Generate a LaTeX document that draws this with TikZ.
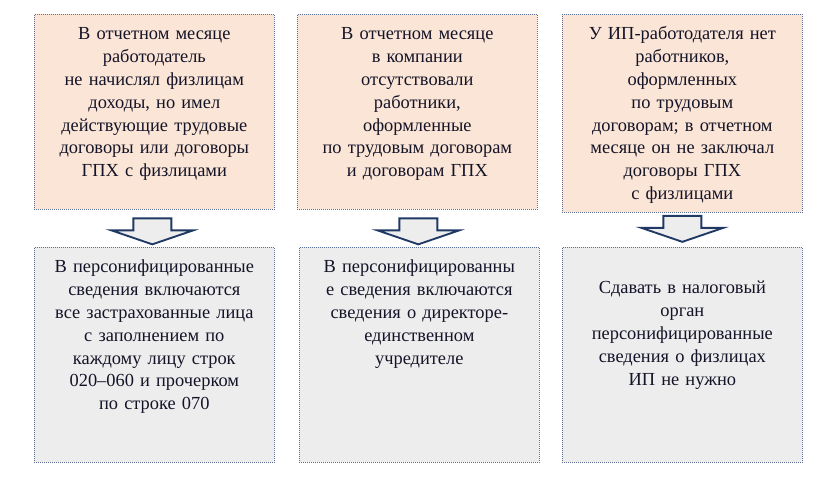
\documentclass[tikz,border=0pt]{standalone}
\usepackage{fontspec}
\setmainfont{Liberation Serif}
\usetikzlibrary{calc}
\definecolor{peach}{HTML}{FBE5D6}
\definecolor{pale}{HTML}{EDEDED}
\definecolor{navy}{HTML}{1F3864}
\definecolor{edge}{HTML}{5A6E96}
\definecolor{ink}{HTML}{141428}
\tikzset{
  box/.style={draw=edge, densely dotted, line width=0.5pt, anchor=north west, inner sep=0pt},
  topbox/.style={box, fill=peach},
  botbox/.style={box, fill=pale},
  txt/.style={text=ink, align=center, text width=#1, font=\fontsize{13.8}{17.2}\selectfont, inner sep=0pt},
  downarrow/.style={draw=navy, fill=pale, line width=1.4pt, line join=miter}
}
\newcommand{\blockarrow}[1]{%
  \draw[downarrow] ($(#1)+(-19,-6)$) -- ++(38,0) -- ++(0,12) -- ++(22,0) -- ++(-41,14) -- ++(-41,-14) -- ++(22,0) -- cycle;}
\begin{document}
\begin{tikzpicture}[x=0.75pt,y=-0.75pt]
\useasboundingbox (0,0) rectangle (822,483);
% upper row
\node[topbox, minimum width=240*0.75pt, minimum height=195*0.75pt] (t1) at (34,14) {};
\node[topbox, minimum width=240*0.75pt, minimum height=195*0.75pt] (t2) at (297,14) {};
\node[topbox, minimum width=240*0.75pt, minimum height=198*0.75pt] (t3) at (562,14) {};
\node[txt=236*0.75pt, anchor=north] (tt1) at ($(t1.north)+(0,9)$) {\strut В отчетном месяце\\ работодатель\\ не начислял физлицам\\ доходы, но имел\\ действующие трудовые\\ договоры или договоры\\ ГПХ с физлицами};
\node[txt=236*0.75pt, anchor=north] (tt2) at ($(t2.north)+(0,9)$) {\strut В отчетном месяце\\ в компании\\ отсутствовали\\ работники,\\ оформленные\\ по трудовым договорам\\ и договорам ГПХ};
\node[txt=236*0.75pt, anchor=north] (tt3) at ($(t3.north)+(0,9)$) {\strut У ИП-работодателя нет\\ работников,\\ оформленных\\ по трудовым\\ договорам; в отчетном\\ месяце он не заключал\\ договоры ГПХ\\ с физлицами};
% lower row
\node[botbox, minimum width=240*0.75pt, minimum height=215*0.75pt] (b1) at (34,247) {};
\node[botbox, minimum width=240*0.75pt, minimum height=215*0.75pt] (b2) at (299,247) {};
\node[botbox, minimum width=240*0.75pt, minimum height=215*0.75pt] (b3) at (562,247) {};
\node[txt=236*0.75pt, anchor=north] (bt1) at ($(b1.north)+(0,9)$) {\strut В персонифицированные\\ сведения включаются\\ все застрахованные лица\\ с заполнением по\\ каждому лицу строк\\ 020--060 и прочерком\\ по строке 070};
\node[txt=236*0.75pt, anchor=north] (bt2) at ($(b2.north)+(0,9)$) {\strut В персонифицированны\\ е сведения включаются\\ сведения о директоре-\\ единственном\\ учредителе};
\node[txt=236*0.75pt] (bt3) at ($(b3.center)+(0,-20)$) {Сдавать в налоговый\\ орган\\ персонифицированные\\ сведения о физлицах\\ ИП не нужно};
% arrows
\coordinate (a1) at ($(t1.south)!0.5!(b1.north)+(-2,-4)$);
\coordinate (a2) at ($(t2.south)!0.5!(b2.north)+(0,-4)$);
\coordinate (a3) at ($(t3.south)!0.5!(b3.north)+(0,-8)$);
\blockarrow{a1}
\blockarrow{a2}
\blockarrow{a3}
\end{tikzpicture}
\end{document}
